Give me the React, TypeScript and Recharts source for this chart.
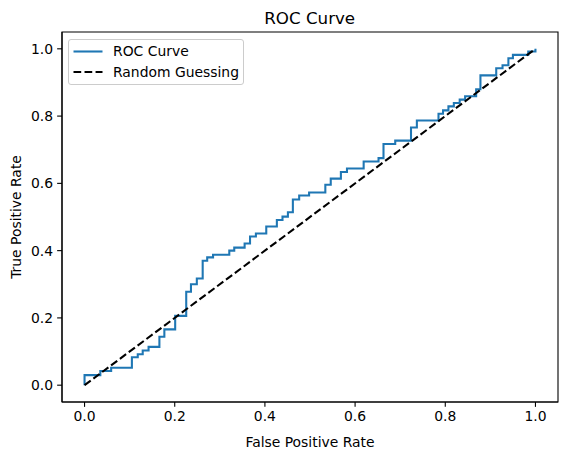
import React from 'react';
import { LineChart, Line, XAxis, YAxis, ReferenceArea, Legend } from 'recharts';

// ROC curve corner points (false positive rate, true positive rate)
const fpr = [0, 0, 0.035, 0.059, 0.105, 0.118, 0.129, 0.142, 0.166, 0.177, 0.201, 0.2255, 0.236, 0.249, 0.262, 0.272, 0.285, 0.321, 0.332, 0.355, 0.367, 0.38, 0.403, 0.4265, 0.439, 0.451, 0.462, 0.476, 0.498, 0.534, 0.546, 0.5685, 0.582, 0.619, 0.652, 0.663, 0.689, 0.724, 0.737, 0.785, 0.795, 0.807, 0.819, 0.832, 0.844, 0.8685, 0.878, 0.913, 0.927, 0.94, 0.95, 0.984, 1.0];
const tpr = [0, 0.03, 0.042, 0.052, 0.083, 0.092, 0.103, 0.114, 0.144, 0.166, 0.206, 0.278, 0.3, 0.317, 0.37, 0.38, 0.388, 0.4, 0.409, 0.421, 0.442, 0.451, 0.472, 0.491, 0.501, 0.514, 0.552, 0.564, 0.573, 0.596, 0.614, 0.634, 0.644, 0.665, 0.675, 0.717, 0.727, 0.766, 0.787, 0.807, 0.817, 0.829, 0.839, 0.849, 0.859, 0.88, 0.921, 0.942, 0.951, 0.972, 0.982, 0.992, 1.0];

const diagX = [0, 1];
const diagY = [0, 1];

const ticks = [0, 0.2, 0.4, 0.6, 0.8, 1.0];

const rocData = fpr.map((x, i) => ({ x, y: tpr[i] }));
const diagData = diagX.map((x, i) => ({ x, y: diagY[i] }));

const FONT = '"DejaVu Sans", sans-serif';
const BLUE = '#1f77b4';
const LW = 2.08;
const DASH = '7.7 3.33';

const LegendBox = () => (
  <div
    style={{
      position: 'absolute',
      left: 68,
      top: 39,
      width: 176,
      height: 46,
      border: '1px solid #cccccc',
      borderRadius: 3,
      background: 'rgba(255,255,255,0.8)',
      fontFamily: FONT,
      fontSize: 13.9,
      color: '#000',
      boxSizing: 'border-box',
    }}
  >
    <svg style={{ position: 'absolute', left: 0, top: 0 }} width={176} height={46}>
      <line x1={4.5} x2={33.5} y1={11.5} y2={11.5} stroke={BLUE} strokeWidth={LW} />
      <line x1={4.5} x2={33.5} y1={32} y2={32} stroke="#000" strokeWidth={LW} strokeDasharray={DASH} />
    </svg>
    <div style={{ position: 'absolute', left: 44, top: 3, lineHeight: '17px', whiteSpace: 'nowrap' }}>ROC Curve</div>
    <div style={{ position: 'absolute', left: 44, top: 23.5, lineHeight: '17px', whiteSpace: 'nowrap' }}>Random Guessing</div>
  </div>
);

export default function App() {
  return (
    <div style={{ position: 'absolute', left: 0, top: 0, width: 567, height: 455, background: '#fff' }}>
      <div
        style={{
          position: 'absolute',
          left: 61.7,
          width: 496,
          top: 8,
          textAlign: 'center',
          fontFamily: FONT,
          fontSize: 16.7,
          lineHeight: '20px',
          color: '#000',
        }}
      >
        ROC Curve
      </div>
      <LineChart width={567} height={455} margin={{ top: 32, right: 9, bottom: 0, left: 0 }}>
        <XAxis
          type="number"
          dataKey="x"
          domain={[-0.05, 1.05]}
          ticks={ticks}
          allowDataOverflow
          tickFormatter={(v: number) => v.toFixed(1)}
          height={53}
          tickSize={4.86}
          tickMargin={4}
          stroke="#000"
          strokeWidth={1.1}
          tick={{ fill: '#000', fontSize: 13.9, fontFamily: FONT }}
          label={{ value: 'False Positive Rate', position: 'center', dy: 14, fill: '#000', fontSize: 13.9, fontFamily: FONT }}
        />
        <YAxis
          type="number"
          dataKey="y"
          domain={[-0.05, 1.05]}
          ticks={ticks}
          allowDataOverflow
          tickFormatter={(v: number) => v.toFixed(1)}
          width={62}
          tickSize={4.86}
          tickMargin={4}
          stroke="#000"
          strokeWidth={1.1}
          tick={{ fill: '#000', fontSize: 13.9, fontFamily: FONT }}
          label={{ value: 'True Positive Rate', angle: -90, position: 'center', dx: -15, fill: '#000', fontSize: 13.9, fontFamily: FONT }}
        />
        <ReferenceArea x1={-0.05} x2={1.05} y1={-0.05} y2={1.05} stroke="#000" strokeWidth={1.1} fill="none" ifOverflow="visible" />
        <Line
          data={rocData}
          dataKey="y"
          type="stepAfter"
          stroke={BLUE}
          strokeWidth={LW}
          dot={false}
          isAnimationActive={false}
          name="ROC Curve"
        />
        <Line
          data={diagData}
          dataKey="y"
          type="linear"
          stroke="#000"
          strokeWidth={LW}
          strokeDasharray={DASH}
          dot={false}
          isAnimationActive={false}
          name="Random Guessing"
        />
        <Legend content={() => null} />
      </LineChart>
      <LegendBox />
    </div>
  );
}
